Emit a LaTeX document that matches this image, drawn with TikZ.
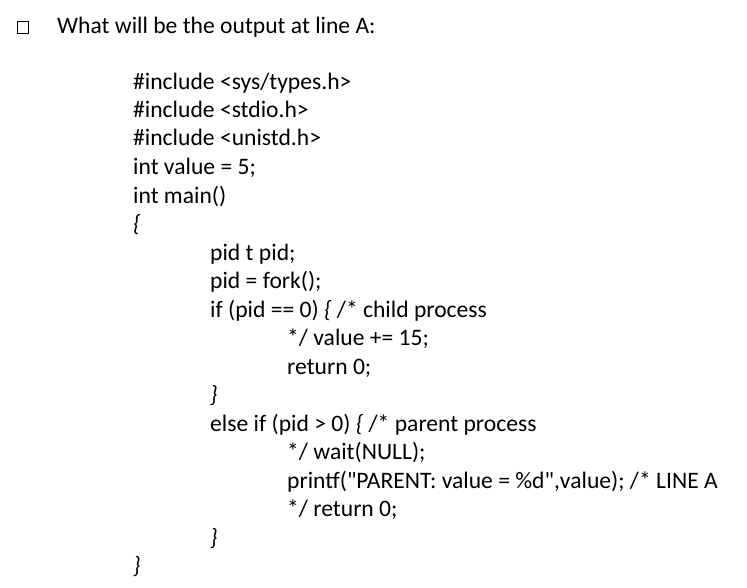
\documentclass[tikz,border=0pt]{standalone}
\usepackage{fontspec}
\setmainfont{Carlito}
\begin{document}
\begin{tikzpicture}[x=1pt,y=1pt,t/.style={anchor=base west,inner sep=0pt,font=\fontsize{23.6}{26}\selectfont}]
\useasboundingbox (0,0) rectangle (747,-587);
\draw[line width=0.8pt] (17,-21) rectangle (28,-33) coordinate (bx);
\node[t] (q) at (57,-33) {What will be the output at line A:};
\node[t] (l1) at (133,-89) {\#include <sys/types.h>};
\node[t] (l2) at (133,-117) {\#include <stdio.h>};
\node[t] (l3) at (133,-145) {\#include <unistd.h>};
\node[t] (l4) at (133,-174) {int value = 5;};
\node[t] (l5) at (133,-203) {int main()};
\node[t] (l6) at (133,-231) {\textit{\{}};
\node[t] (l7) at (210,-260) {pid t pid;};
\node[t] (l8) at (210,-288) {pid = fork();};
\node[t] (l9) at (210,-317) {if (pid == 0) \textit{\{} /* child process};
\node[t] (l10) at (287,-345) {*/ value += 15;};
\node[t] (l11) at (287,-374) {return 0;};
\node[t] (l12) at (210,-402) {\textit{\}}};
\node[t] (l13) at (210,-431) {else if (pid > 0) \textit{\{} /* parent process};
\node[t] (l14) at (287,-459) {*/ wait(NULL);};
\node[t] (l15) at (287,-488) {printf(\textquotedbl PARENT: value = \%d\textquotedbl,value); /* LINE A};
\node[t] (l16) at (287,-516) {*/ return 0;};
\node[t] (l17) at (210,-545) {\textit{\}}};
\node[t] (l18) at (133,-573) {\textit{\}}};
\end{tikzpicture}
\end{document}
